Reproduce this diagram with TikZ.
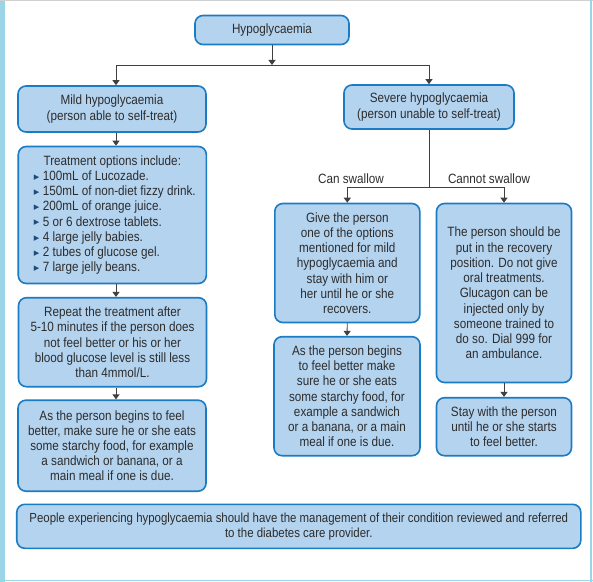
\documentclass[tikz,border=0pt]{standalone}
\usepackage{fontspec}
\setmainfont{Liberation Sans}[FakeStretch=0.87]
\newfontfamily\symfont{DejaVu Sans}
\usetikzlibrary{arrows.meta,positioning}
\definecolor{boxfill}{HTML}{B4D3EF}
\definecolor{boxline}{HTML}{1B7BC3}
\definecolor{frameblue}{HTML}{9DD5E8}
\definecolor{textgrey}{HTML}{2C2C2C}
\definecolor{bulletblue}{HTML}{1F4A7A}
\newcommand{\opt}[1]{\makebox[157bp][l]{\raisebox{0.3bp}{\symfont\fontsize{11}{11}\selectfont\color{bulletblue}▸}\hspace{3.5bp}#1}}

\begin{document}
\begin{tikzpicture}[x=1bp,y=-1bp,
  every node/.style={font=\fontsize{13.5}{15.3}\selectfont,text=textgrey},
  box/.style={draw=boxline,line width=1.6bp,rounded corners=8bp,fill=boxfill,
              align=center,inner sep=2bp},
  link/.style={draw=black!75,line width=0.9bp},
  arr/.style={link,-{Triangle[length=5bp,width=7bp]}}
]
  \useasboundingbox (0,0) rectangle (593,582);
  % page frame
  \fill[frameblue] (0,0) rectangle (4.7,582);
  \draw[black!18,line width=1.2bp] (0,0.6) -- (593,0.6);
  \draw[frameblue,line width=2bp] (591,0) -- (591,582);
  \draw[frameblue,line width=1.5bp] (0,580.3) -- (593,580.3);

  % top level
  \node[box,minimum width=154bp,minimum height=29bp] (hypo) at (272,30) {Hypoglycaemia};
  \node[box,minimum width=188bp,minimum height=46bp] (mild) at (112,109)
    {Mild hypoglycaemia\\(person able to self-treat)};
  \node[box,minimum width=170bp,minimum height=44bp] (severe) at (429,107)
    {Severe hypoglycaemia\\(person unable to self-treat)};

  % mild column
  \node[box,minimum width=188bp,minimum height=137bp] (treat) at (112.3,215)
    {Treatment options include:\\
     \opt{100mL of Lucozade.}\\
     \opt{150mL of non-diet fizzy drink.}\\
     \opt{200mL of orange juice.}\\
     \opt{5 or 6 dextrose tablets.}\\
     \opt{4 large jelly babies.}\\
     \opt{2 tubes of glucose gel.}\\
     \opt{7 large jelly beans.}};
  \node[box,minimum width=188bp,minimum height=89bp] (repeat) at (112.5,342.2)
    {Repeat the treatment after\\5-10 minutes if the person does\\not feel better or his or her\\blood glucose level is still less\\than 4mmol/L.};
  \node[box,minimum width=188bp,minimum height=91bp] (feelmild) at (112,445.7)
    {As the person begins to feel\\better, make sure he or she eats\\some starchy food, for example\\a sandwich or banana, or a\\main meal if one is due.};

  % severe columns
  \node (can) at (351,179) {Can swallow};
  \node (cannot) at (489,179) {Cannot swallow};
  \node[box,minimum width=145bp,minimum height=119bp] (give) at (347.3,263)
    {Give the person\\one of the options\\mentioned for mild\\hypoglycaemia and\\stay with him or\\her until he or she\\recovers.};
  \node[box,minimum width=146bp,minimum height=119bp] (feelsevere) at (347,396.2)
    {As the person begins\\to feel better make\\sure he or she eats\\some starchy food, for\\example a sandwich\\or a banana, or a main\\meal if one is due.};
  \node[box,minimum width=135bp,minimum height=179bp] (recovery) at (504,293)
    {The person should be\\put in the recovery\\position. Do not give\\oral treatments.\\Glucagon can be\\injected only by\\someone trained to\\do so. Dial 999 for\\an ambulance.};
  \node[box,minimum width=135bp,minimum height=58bp] (stay) at (504,426.7)
    {Stay with the person\\until he or she starts\\to feel better.};

  % footer
  \node[box,minimum width=564bp,minimum height=44bp,
        font=\fontsize{13.2}{15.3}\selectfont] (refer) at (298.8,526.3)
    {People experiencing hypoglycaemia should have the management of their condition reviewed and referred\\to the diabetes care provider.};

  % connectors
  \coordinate (split) at (272,65);
  \coordinate (lx) at (116,0);
  \coordinate (fork) at (429,187);
  \draw[arr] (hypo.south) -- (split);
  \draw[arr] (split) -| (lx |- mild.north);
  \draw[arr] (split) -| (severe.north);
  \draw[arr] (lx |- mild.south) -- (lx |- treat.north);
  \draw[arr] (lx |- treat.south) -- (lx |- repeat.north);
  \draw[arr] (lx |- repeat.south) -- (lx |- feelmild.north);
  \draw[link] (severe.south) -- (fork);
  \draw[arr] (fork) -| (give.north);
  \draw[arr] (fork) -| (recovery.north);
  \draw[arr] (give.south) -- (feelsevere.north);
  \draw[arr] (recovery.south) -- (stay.north);
\end{tikzpicture}
\end{document}
